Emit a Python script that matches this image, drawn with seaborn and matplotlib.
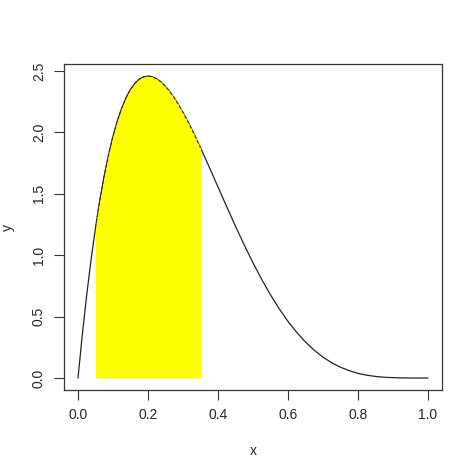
import numpy as np
import pandas as pd
import matplotlib
matplotlib.use('Agg')
import matplotlib.pyplot as plt
import seaborn as sns

# valores (curva de densidade)
x_vals = [0.0, 0.0125, 0.025, 0.0375, 0.05, 0.0625, 0.075, 0.0875, 0.1, 0.1125,
          0.125, 0.1375, 0.15, 0.1625, 0.175, 0.1875, 0.2, 0.2125, 0.225, 0.2375,
          0.25, 0.2625, 0.275, 0.2875, 0.3, 0.3125, 0.325, 0.3375, 0.35, 0.3625,
          0.375, 0.3875, 0.4, 0.425, 0.45, 0.475, 0.5,
          0.525, 0.55, 0.575, 0.6, 0.625, 0.65, 0.675, 0.7, 0.725, 0.75,
          0.775, 0.8, 0.825, 0.85, 0.875, 0.9, 0.925, 0.95, 0.975, 1.0]
y_vals = [0.0, 0.357, 0.678, 0.966, 1.222, 1.448, 1.647, 1.820, 1.968, 2.094,
          2.198, 2.283, 2.349, 2.398, 2.432, 2.451, 2.458, 2.452, 2.435, 2.409,
          2.373, 2.330, 2.279, 2.223, 2.161, 2.094, 2.024, 1.951, 1.874, 1.796,
          1.717, 1.636, 1.555, 1.394, 1.235, 1.083, 0.938,
          0.802, 0.677, 0.563, 0.461, 0.371, 0.293, 0.226, 0.170, 0.124, 0.088,
          0.060, 0.038, 0.023, 0.013, 0.006, 0.003, 0.001, 0.0002, 0.0, 0.0]

# intervalo sombreado
area_ini = 0.05
area_fim = 0.35

df = pd.DataFrame({'x': x_vals, 'y': y_vals})
sombra = df[(df['x'] >= area_ini - 1e-9) & (df['x'] <= area_fim + 1e-9)]

sns.set_style('ticks')
plt.rcParams['font.family'] = ['Liberation Sans', 'DejaVu Sans']

fig = plt.figure(figsize=(4.74, 4.70), dpi=100)
ax = fig.add_axes([0.135, 0.17, 0.7975, 0.6938])

sns.lineplot(x='x', y='y', data=df, ax=ax, color='#222222', linewidth=0.9)
ax.fill_between(sombra['x'], 0, sombra['y'], color='yellow', linewidth=0, zorder=3)
ax.plot(sombra['x'], sombra['y'], color='#333333', linewidth=0.8,
        linestyle=(0, (3, 2)), zorder=4)

ax.set_xlim(-0.04, 1.04)
ax.set_ylim(-0.0983, 2.5559)
ax.set_xticks([0.0, 0.2, 0.4, 0.6, 0.8, 1.0])
ax.set_yticks([0.0, 0.5, 1.0, 1.5, 2.0, 2.5])
ax.set_xticklabels(['0.0', '0.2', '0.4', '0.6', '0.8', '1.0'])
ax.set_yticklabels(['0.0', '0.5', '1.0', '1.5', '2.0', '2.5'], rotation=90, va='center')
ax.tick_params(axis='both', length=7, width=0.8, labelsize=10, pad=6, color='#333333')
for s in ax.spines.values():
    s.set_linewidth(0.9)
    s.set_color('#333333')
ax.set_xlabel('x', fontsize=10, labelpad=16)
ax.set_ylabel('y', fontsize=10, labelpad=12)

fig.savefig('out.png', dpi=100)
